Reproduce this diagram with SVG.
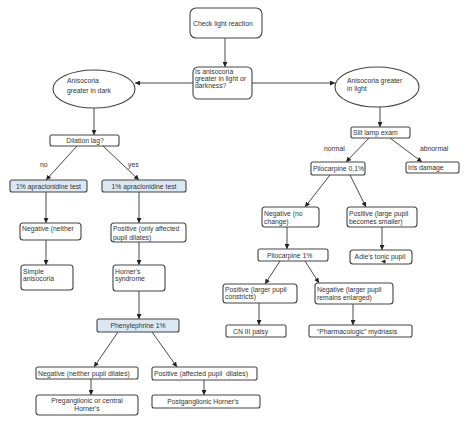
<svg xmlns="http://www.w3.org/2000/svg" width="474" height="426" viewBox="0 0 474 426">
<style>
.b{fill:#fff;stroke:#444;stroke-width:1.1}
.bl{fill:#dbe8f3;stroke:#444;stroke-width:1.1}
text{font-family:"Liberation Sans",Arial,sans-serif;font-size:6.8px;fill:#333}
.c{text-anchor:middle}
.ln{stroke:#333;stroke-width:0.9;fill:none;marker-end:url(#ah)}
</style>
<defs>
<marker id="ah" viewBox="0 0 10 10" refX="10" refY="5" markerWidth="5" markerHeight="5" markerUnits="userSpaceOnUse" orient="auto">
<path d="M0,0 L10,5 L0,10 z" fill="#222"/>
</marker>
</defs>
<rect width="474" height="426" fill="#fff"/>
<g id="connectors">
<line class="ln" x1="225" y1="38" x2="225" y2="67"/>
<line class="ln" x1="193" y1="83" x2="135" y2="83"/>
<line class="ln" x1="252" y1="83" x2="335" y2="83"/>
<line class="ln" x1="94" y1="108" x2="94" y2="135"/>
<line class="ln" x1="77" y1="146" x2="46" y2="180"/>
<line class="ln" x1="103" y1="146" x2="139" y2="180"/>
<line class="ln" x1="46" y1="192" x2="46" y2="223"/>
<line class="ln" x1="139" y1="192" x2="139" y2="223"/>
<line class="ln" x1="46" y1="240" x2="46" y2="265"/>
<line class="ln" x1="139" y1="242" x2="139" y2="265"/>
<line class="ln" x1="139" y1="291" x2="139" y2="319"/>
<line class="ln" x1="118" y1="332" x2="94" y2="367"/>
<line class="ln" x1="152" y1="332" x2="177" y2="367"/>
<line class="ln" x1="91" y1="379" x2="91" y2="395"/>
<line class="ln" x1="204" y1="380" x2="204" y2="395"/>
<line class="ln" x1="380" y1="107" x2="380" y2="127"/>
<line class="ln" x1="369" y1="138" x2="346" y2="162"/>
<line class="ln" x1="390" y1="138" x2="422" y2="162"/>
<line class="ln" x1="330" y1="175" x2="305" y2="207"/>
<line class="ln" x1="350" y1="175" x2="366" y2="207"/>
<line class="ln" x1="287" y1="227" x2="287" y2="249"/>
<line class="ln" x1="382" y1="227" x2="382" y2="250"/>
<line class="ln" x1="280" y1="261" x2="265" y2="284"/>
<line class="ln" x1="305" y1="261" x2="319" y2="283"/>
<line class="ln" x1="259" y1="303" x2="259" y2="325"/>
<line class="ln" x1="353" y1="304" x2="353" y2="325"/>
<text x="40" y="167">no</text>
<text x="128" y="167">yes</text>
<text x="324" y="150.5">normal</text>
<text x="420" y="150.5">abnormal</text>
</g>
<g id="n-check"><rect class="b" x="190" y="8" width="72" height="30" rx="6"/><text x="193" y="25.5">Check light reaction</text></g>
<g id="n-is"><rect class="b" x="193" y="67" width="59" height="32" rx="5"/><text x="195" y="74">Is anisocoria</text><text x="195" y="81">greater in light or</text><text x="195" y="88">darkness?</text></g>
<g id="n-dark"><ellipse class="b" cx="94" cy="89" rx="41" ry="19"/><text x="67" y="82.5">Anisocoria</text><text x="67" y="93">greater in dark</text></g>
<g id="n-light"><ellipse class="b" cx="377" cy="87" rx="42" ry="20"/><text x="347" y="82.5">Anisocoria greater</text><text x="347" y="91">in light</text></g>
<g id="n-dil"><rect class="b" x="50" y="135" width="69" height="11" rx="2"/><text class="c" x="85" y="143">Dilation lag?</text></g>
<g id="n-apra1"><rect class="bl" x="10" y="180" width="77" height="12" rx="2"/><text class="c" x="48.5" y="188.5">1% apraclonidine test</text></g>
<g id="n-apra2"><rect class="bl" x="102" y="180" width="84" height="12" rx="2"/><text class="c" x="144" y="188.5">1% apraclonidine test</text></g>
<g id="n-neg1"><rect class="b" x="20" y="223" width="61" height="17" rx="3"/><text x="22" y="231">Negative (neither</text></g>
<g id="n-pos1"><rect class="b" x="111" y="223" width="75" height="19" rx="3"/><text x="113" y="231">Positive (only affected</text><text x="113" y="239.5">pupil dilates)</text></g>
<g id="n-simple"><rect class="b" x="21" y="265" width="52" height="25" rx="3"/><text x="23" y="273.5">Simple</text><text x="23" y="281">anisocoria</text></g>
<g id="n-horner"><rect class="b" x="113" y="265" width="52" height="26" rx="3"/><text x="115" y="273.5">Horner's</text><text x="115" y="281">syndrome</text></g>
<g id="n-phen"><rect class="bl" x="97" y="319" width="82" height="13" rx="2"/><text class="c" x="138" y="328">Phenylephrine 1%</text></g>
<g id="n-neg2"><rect class="b" x="36" y="367" width="102" height="12" rx="2"/><text x="38" y="375.5">Negative (neither pupil dilates)</text></g>
<g id="n-pos2"><rect class="b" x="152" y="367" width="105" height="13" rx="2"/><text x="154" y="375.5" xml:space="preserve">Positive (affected pupil  dilates)</text></g>
<g id="n-pre"><rect class="b" x="36" y="395" width="102" height="20" rx="3"/><text class="c" x="87" y="403">Preganglionic or central</text><text class="c" x="87" y="410.5">Horner's</text></g>
<g id="n-post"><rect class="b" x="152" y="395" width="108" height="13" rx="2"/><text class="c" x="203" y="404">Postganglionic Horner's</text></g>
<g id="n-slit"><rect class="b" x="351" y="127" width="59" height="11" rx="2"/><text x="353" y="135">Slit lamp exam</text></g>
<g id="n-pilo01"><rect class="b" x="311" y="162" width="54" height="13" rx="2"/><text x="313" y="171">Pilocarpine 0,1%</text></g>
<g id="n-iris"><rect class="b" x="406" y="162" width="53" height="11" rx="2"/><text x="408" y="170">Iris damage</text></g>
<g id="n-negnc"><rect class="b" x="262" y="207" width="57" height="20" rx="3"/><text x="264" y="215.5">Negative (no</text><text x="264" y="224">change)</text></g>
<g id="n-posls"><rect class="b" x="347" y="207" width="70" height="20" rx="3"/><text x="349" y="215.5">Positive (large pupil</text><text x="349" y="224">becomes smaller)</text></g>
<g id="n-pilo1"><rect class="b" x="258" y="249" width="70" height="12" rx="2"/><text x="267" y="258">Pilocarpine 1%</text></g>
<g id="n-adie"><rect class="b" x="350" y="250" width="62" height="14" rx="3"/><text class="c" x="380" y="258.5">Adie's tonic pupil</text><polygon points="381,261.5 385.5,259.5 385.5,263.5" fill="#222"/></g>
<g id="n-poslc"><rect class="b" x="223" y="284" width="74" height="19" rx="3"/><text x="225" y="291.5">Positive (larger pupil</text><text x="225" y="298.5">constricts)</text></g>
<g id="n-negre"><rect class="b" x="315" y="283" width="78" height="21" rx="3"/><text x="317" y="292">Negative (larger pupil</text><text x="317" y="299.5">remains enlarged)</text></g>
<g id="n-cn3"><rect class="b" x="226" y="325" width="60" height="12" rx="2"/><text x="233" y="333.5">CN III palsy</text></g>
<g id="n-pharm"><rect class="b" x="309" y="325" width="103" height="12" rx="2"/><text x="317" y="333.5">“Pharmacologic” mydriasis</text></g>
</svg>
